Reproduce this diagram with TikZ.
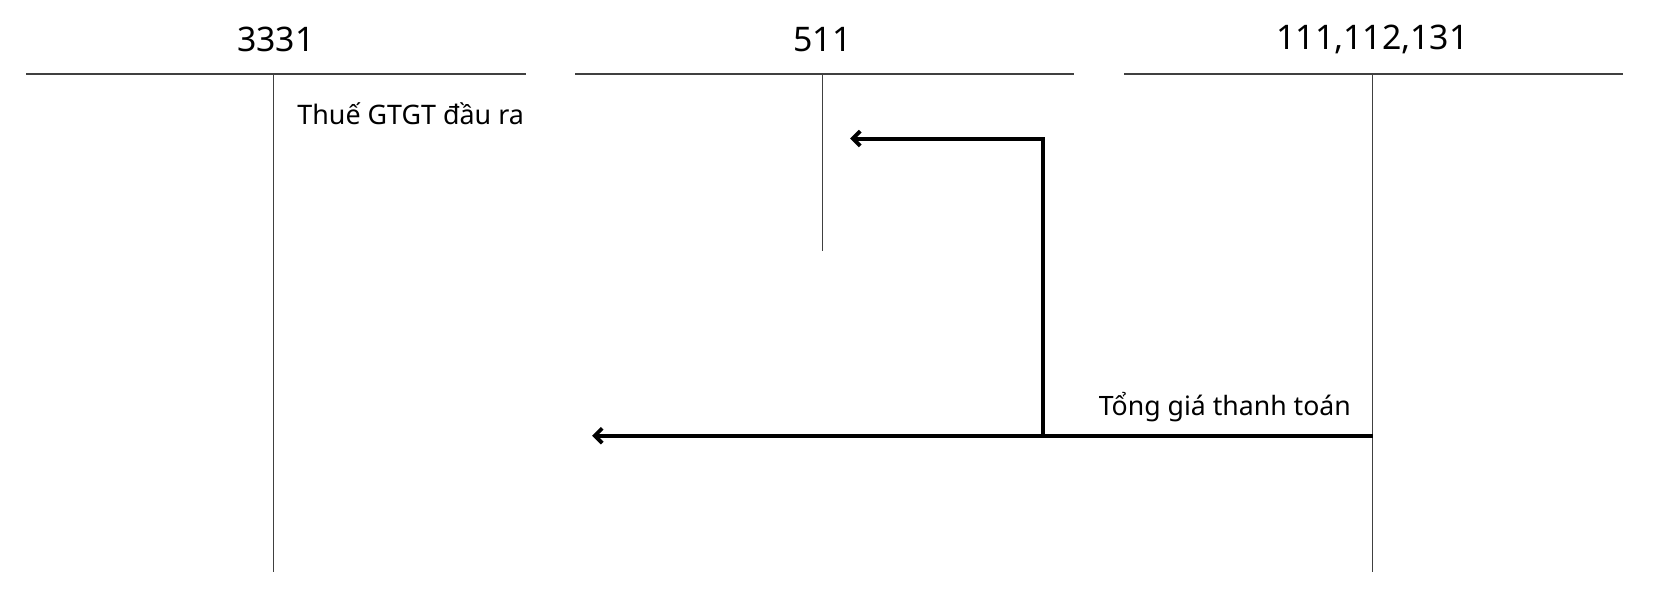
\documentclass[tikz,border=0pt]{standalone}
\usepackage{fontspec}
\setmainfont{Noto Sans}
\usetikzlibrary{arrows.meta}

\begin{document}
\begin{tikzpicture}[x=1pt,y=-1pt,
  tline/.style={draw=black!75,line width=1.1pt},
  flow/.style={line width=3.8pt,-{Straight Barb[length=7pt,width=14pt,line width=3.6pt]}}]
\useasboundingbox (0,0) rectangle (1568,573);
% account headings
\node (acc3331) at (261,37) {\fontsize{32}{36}\selectfont 3331};
\node (acc511) at (778,37) {\fontsize{32}{36}\selectfont 511};
\node (acc111) at (1298,37) {\fontsize{32}{36}\selectfont 111,112,131};
% T accounts
\draw[tline] (25,70) -- (497,70) (259,70) -- (259,541);
\draw[tline] (544,70) -- (1016,70) (778,70) -- (778,237);
\draw[tline] (1063,70) -- (1535,70) (1298,70) -- (1298,541);
\node[anchor=east] (vat) at (499,108) {\fontsize{25.4}{28}\selectfont Thuế GTGT đầu ra};
\node[anchor=east] (total) at (1281,385) {\fontsize{25.2}{28}\selectfont Tổng giá thanh toán};
\coordinate (start) at (1298,412);
\coordinate (split) at (986,412);
\coordinate (to3331) at (560,412);
\coordinate (to511) at (804,131);
\draw[flow] (start) -- (to3331);
\draw[flow] (split) |- (to511);
\end{tikzpicture}
\end{document}
